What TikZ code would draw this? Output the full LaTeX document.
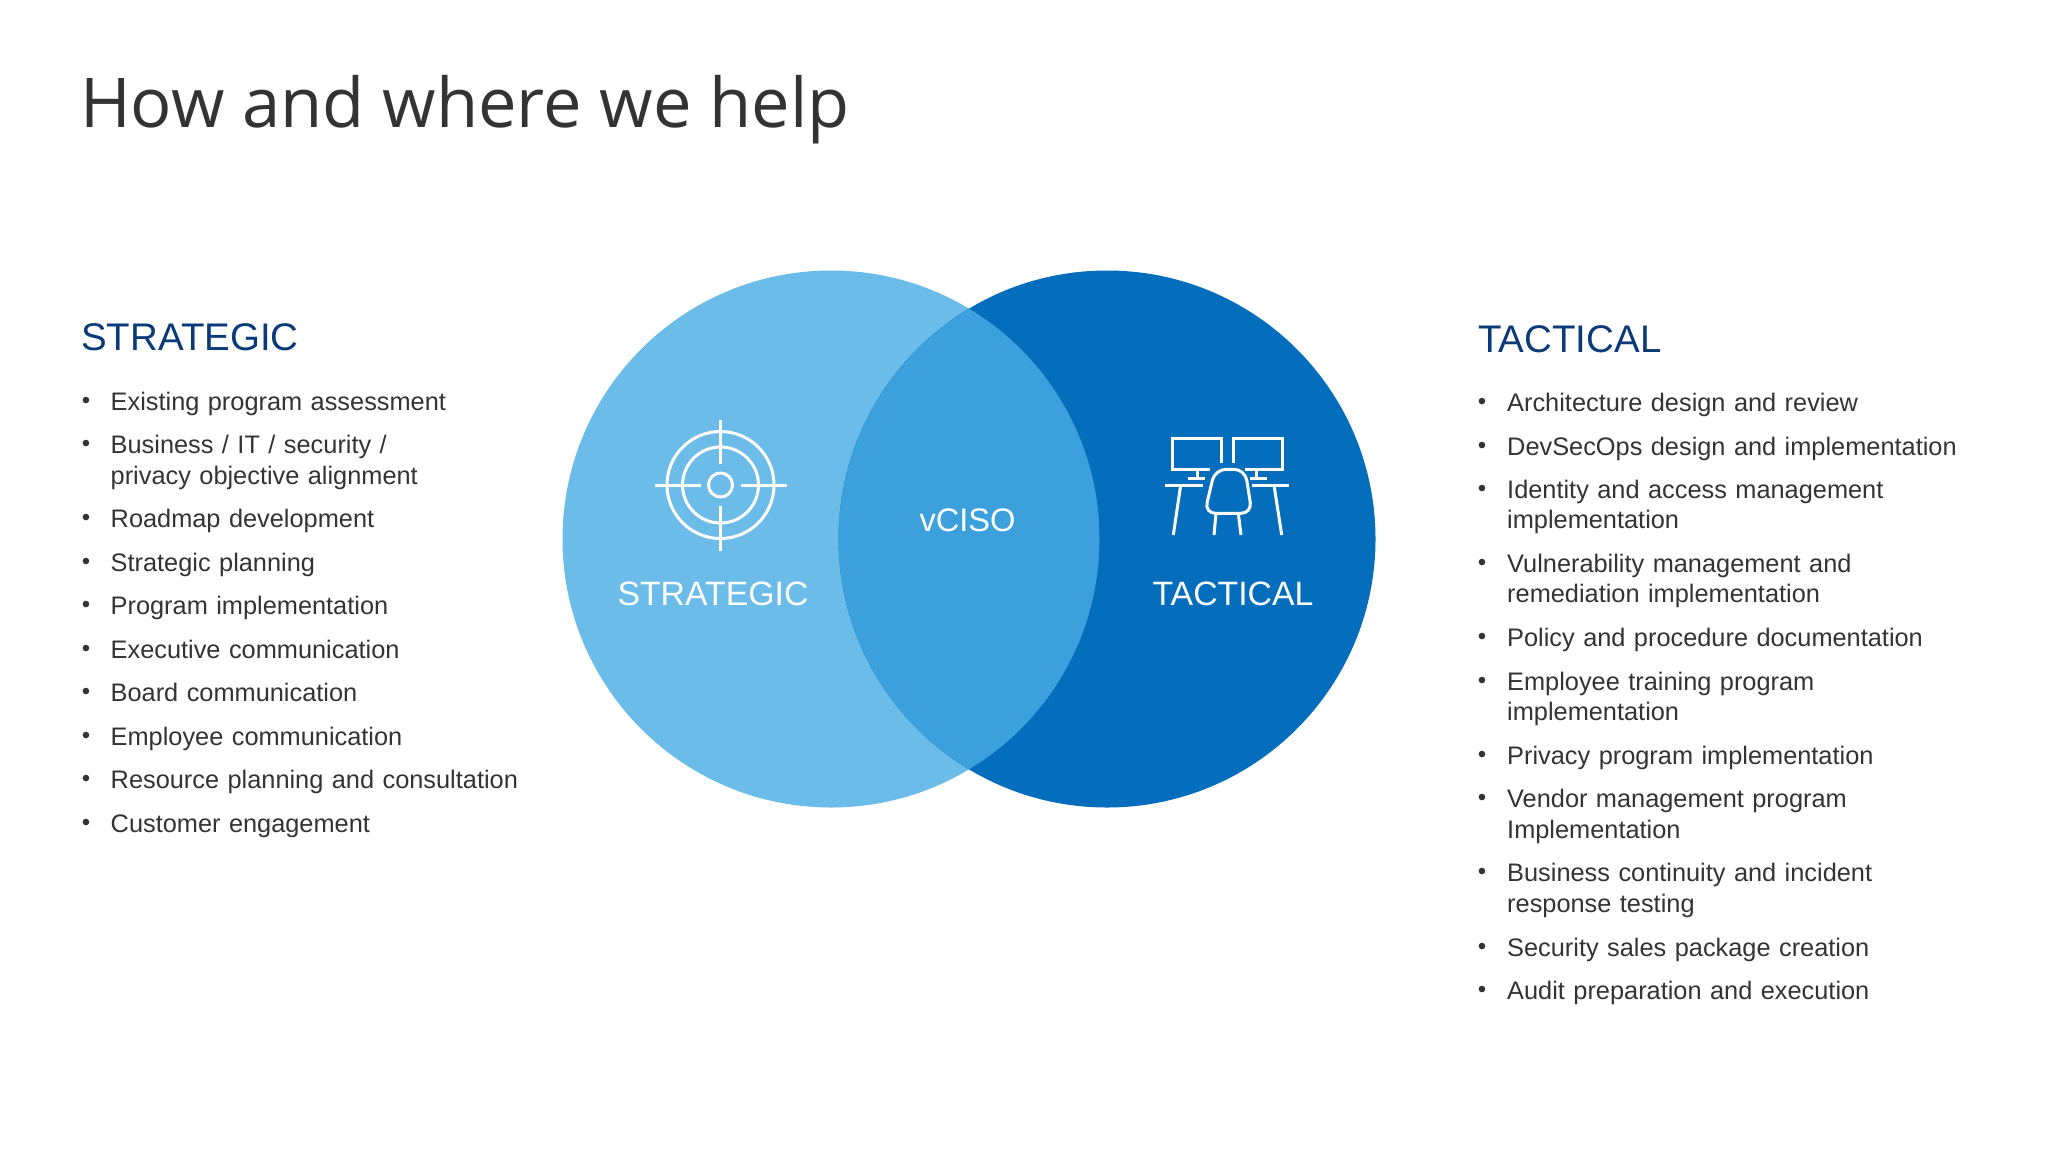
\documentclass[tikz,border=0pt]{standalone}
\usepackage{fontspec}
\setmainfont{Liberation Sans}
\newfontfamily\titlefont{Open Sans}
\usepackage{xcolor}
\definecolor{lightblue}{HTML}{6CBCE9}
\definecolor{darkblue}{HTML}{046DBC}
\definecolor{midblue}{HTML}{3BA0DC}
\definecolor{headblue}{HTML}{0A3A78}
\definecolor{bodygray}{HTML}{333333}
\tikzset{
  bodytext/.style={anchor=base west, inner sep=0, text width=520pt, align=left, text=bodygray, font=\fontsize{25.35}{30.7}\selectfont},
  dot/.style={anchor=base, inner sep=0, yshift=2pt, text=bodygray, font=\fontsize{24}{30}\selectfont},
  headtext/.style={anchor=base west, inner sep=0, text=headblue, font=\fontsize{38.5}{44}\selectfont},
  circletext/.style={anchor=base, inner sep=0, text=white, font=\fontsize{33.8}{38}\selectfont},
  iconline/.style={white, line width=3pt}
}
\begin{document}
\begin{tikzpicture}[x=1pt,y=-1pt]
\useasboundingbox (0,0) rectangle (2048,1152);
\node[anchor=base west, inner sep=0, text=bodygray, font=\titlefont\fontsize{68.7}{80}\selectfont] (title) at (80,127) {How and where we help};
% venn
\fill[lightblue] (831,539) circle (268.5);
\fill[darkblue] (1107,539) circle (268.5);
\begin{scope}
\clip (831,539) circle (268.5);
\fill[midblue] (1107,539) circle (268.5);
\end{scope}
\node[circletext, font=\fontsize{32.6}{38}\selectfont] (vciso) at (967.5,531) {vCISO};
\node[circletext] (strategicin) at (713,605) {STRATEGIC};
\node[circletext] (tacticalin) at (1233,605) {TACTICAL};
% target
\foreach \r in {53.5,38,12} {
\draw[iconline] (720.5,485) circle (\r);
}
\draw[iconline] (655,485)--(701,485);
\draw[iconline] (740.5,485)--(786.5,485);
\draw[iconline] (720.5,419.5)--(720.5,464);
\draw[iconline] (720.5,506)--(720.5,550.5);
% desk
\draw[iconline] (1221.7,463)--(1221.7,438.3)--(1172.7,438.3)--(1172.7,469.3)--(1210,469.3);
\draw[iconline] (1233.3,463)--(1233.3,438.3)--(1282.7,438.3)--(1282.7,469.3)--(1245,469.3);
\draw[iconline] (1197.3,469.3)--(1197.3,478.3);
\draw[iconline] (1187.7,478.3)--(1205,478.3);
\draw[iconline] (1256.7,469.3)--(1256.7,478.3);
\draw[iconline] (1250,478.3)--(1267.3,478.3);
\draw[iconline] (1165,485)--(1203.3,485);
\draw[iconline] (1251.7,485)--(1289.3,485);
\draw[iconline] (1180.7,485)--(1173.3,535);
\draw[iconline] (1274,485)--(1281.7,535);
\draw[iconline, rounded corners=11pt] (1215,469.3)--(1245,469.3)--(1252,513.3)--(1204.5,513.3)--cycle;
\draw[iconline] (1216,513.3)--(1214,535);
\draw[iconline] (1238.3,513.3)--(1241,535);
% left list
\node[headtext] (strategichead) at (81,350.5) {STRATEGIC};
\foreach \i/\y/\txt in {
 1/410/{Existing program assessment},
 2/453.5/{Business / IT / security /\\privacy objective alignment},
 3/527.5/{Roadmap development},
 4/571/{Strategic planning},
 5/614/{Program implementation},
 6/658/{Executive communication},
 7/701.5/{Board communication},
 8/745/{Employee communication},
 9/788/{Resource planning and consultation},
 10/832/{Customer engagement}} {
\node[dot] (sdot\i) at (86,\y) {•};
\node[bodytext] (sitem\i) at (110.5,\y) {\txt};
}
% right list
\node[headtext] (tacticalhead) at (1478,352.5) {TACTICAL};
\foreach \i/\y/\txt in {
 1/411.5/{Architecture design and review},
 2/455/{DevSecOps design and implementation},
 3/498/{Identity and access management\\implementation},
 4/572/{Vulnerability management and\\remediation implementation},
 5/646.5/{Policy and procedure documentation},
 6/690/{Employee training program\\implementation},
 7/764/{Privacy program implementation},
 8/807.5/{Vendor management program\\Implementation},
 9/881.5/{Business continuity and incident\\response testing},
 10/956/{Security sales package creation},
 11/999.5/{Audit preparation and execution}} {
\node[dot] (tdot\i) at (1482,\y) {•};
\node[bodytext] (titem\i) at (1507,\y) {\txt};
}
\end{tikzpicture}
\end{document}
